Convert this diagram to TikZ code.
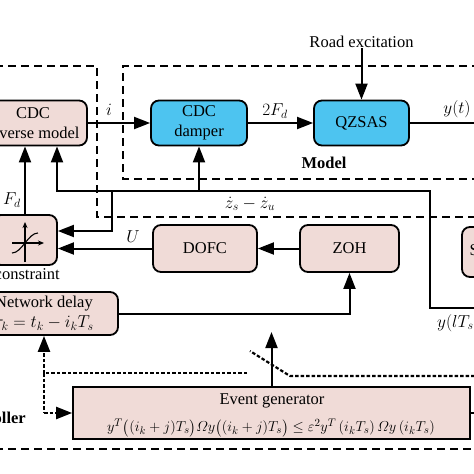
\documentclass[tikz,border=0pt]{standalone}
\usepackage{amsmath}
\usepackage{fontspec}
\setmainfont{Liberation Serif}
\usetikzlibrary{arrows.meta,calc}
\definecolor{boxpink}{RGB}{240,219,215}
\definecolor{boxblue}{RGB}{77,196,240}
\tikzset{
  basefont/.style={font=\fontsize{16.5}{20}\selectfont},
  pinkbox/.style={draw, line width=1.8pt, rounded corners=8pt, fill=boxpink, align=center, inner sep=0pt},
  bluebox/.style={pinkbox, fill=boxblue},
  conn/.style={line width=2pt},
  arr/.style={conn, -{Triangle[length=16pt,width=12pt]}},
  dotarr/.style={dots, -{Triangle[length=16pt,width=12pt]}},
  bound/.style={line width=1.5pt, dash pattern=on 8pt off 5pt},
  dots/.style={line width=2.2pt, dash pattern=on 3.5pt off 2pt},
  lbl/.style={inner sep=0pt},
  thinax/.style={line width=1.1pt, -{Stealth[length=6pt,width=5pt]}},
}
\begin{document}
\begin{tikzpicture}[x=1pt,y=-1pt,basefont]
\useasboundingbox (0,0) rectangle (474,474);
\clip (0,0) rectangle (474,474);

% dashed region boundaries
\draw[bound] (-5,66) -- (97,66) -- (97,217) -- (480,217);
\draw[bound] (480,66) -- (123,66) -- (123,179) -- (480,179);
\draw[bound] (-5,449) -- (480,449);

% blocks
\node[pinkbox, minimum width=108pt, minimum height=45pt] (inv) at (33,123) {CDC\\inverse model};
\node[bluebox, minimum width=96pt, minimum height=45pt] (damp) at (199,123) {CDC\\damper};
\node[bluebox, minimum width=95pt, minimum height=45pt] (qz) at (361.5,123) {QZSAS};
\node[pinkbox, minimum width=64pt, minimum height=50pt] (cons) at (25,240) {};
\node[pinkbox, minimum width=104pt, minimum height=47pt] (dofc) at (205,248.5) {DOFC};
\node[pinkbox, minimum width=99pt, minimum height=47pt] (zoh) at (349.5,248.5) {ZOH};
\node[pinkbox, minimum width=70pt, minimum height=50pt] (samp) at (497,252) {Sampler};
\node[pinkbox, minimum width=148pt, minimum height=43pt] (net) at (44,313.5) {Network delay\\$\tau_k=t_k-i_kT_s$};
\node[draw, line width=1.8pt, fill=boxpink, minimum width=397pt, minimum height=52pt, inner sep=0pt] (event) at (271.5,413) {};
\node[lbl] (evt1) at (272,401) {Event generator};
\node[lbl, font=\fontsize{15}{17}\selectfont] (evt2) at (271,428) {$y^{T}\big((i_k+j)T_s\big)\varOmega y\big((i_k+j)T_s\big)\le\varepsilon^{2}y^{T}\left(i_kT_s\right)\varOmega y\left(i_kT_s\right)$};

% saturation symbol
\draw[thinax] (12,243) -- (44,243);
\draw[thinax] (25,262) -- (25,222);
\draw[line width=1.1pt] (12,253) .. controls (22,253) and (28,233) .. (38,233);

% labels
\node[lbl] (road) at (361.5,42) {Road excitation};
\node[lbl] (li) at (109,110) {$i$};
\node[lbl] (l2f) at (275,111) {$2F_d$};
\node[lbl] (lyt) at (457,109) {$y(t)$};
\node[lbl] (lmodel) at (324,163) {\textbf{Model}};
\node[lbl] (lfd) at (12,200) {$F_d$};
\node[lbl] (lz) at (250,204) {$\dot z_s-\dot z_u$};
\node[lbl] (lu) at (133,237) {$U$};
\node[lbl, anchor=base east] (lcons) at (60,279) {constraint};
\node[lbl, anchor=base west] (lylt) at (437,327) {$y(lT_s)$};
\node[lbl, anchor=base east] (lctrl) at (26,423) {\textbf{Controller}};

% forward path
\draw[arr] (road.south) -- (qz.north);
\draw[arr] (inv.east) -- (damp.west);
\draw[arr] (damp.east) -- (qz.west);
\coordinate (yout) at (480,123);
\draw[conn] (qz.east) -- (yout);

% feedback of suspension velocity
\coordinate (fbin) at (480,308);
\coordinate (fbc) at (430,308);
\coordinate (fbt) at (430,191);
\coordinate (fbl) at (57,191);
\draw[arr] (fbin) -- (fbc) -- (fbt) -- (fbl) -- (fbl |- inv.south);
\coordinate (br1) at (199,191);
\draw[arr] (br1) -- (damp.south);
\coordinate (br2) at (112,191);
\coordinate (br2b) at (112,231);
\draw[arr] (br2) -- (br2b) -- (br2b -| cons.east);

% control path
\draw[arr] (cons.north) -- (cons.north |- inv.south);
\draw[arr] (dofc.west) -- (dofc.west -| cons.east);
\draw[arr] (zoh.west) -- (dofc.east);
\draw[arr] (net.east) -| (zoh.south);

% event generator
\coordinate (evup) at (271.5,332);
\draw[arr] (event.north) -- (evup);
\coordinate (evin) at (480,413);
\draw[conn] (evin) -- (event.east);

% dotted network transmission with switch
\coordinate (swinR) at (480,376);
\coordinate (swpivot) at (290,376);
\coordinate (swblade) at (250,351);
\draw[dots] (swinR) -- (swpivot) -- (swblade);
\coordinate (swcontact) at (247,373);
\coordinate (dotcorner) at (44,373);
\coordinate (dotlow) at (44,413);
\draw[dots] (swcontact) -- (dotcorner);
\draw[dots] (dotcorner) -- (dotlow);
\draw[dotarr] (dotcorner) -- (net.south);
\draw[dotarr] (dotlow) -- (event.west);
\end{tikzpicture}
\end{document}
